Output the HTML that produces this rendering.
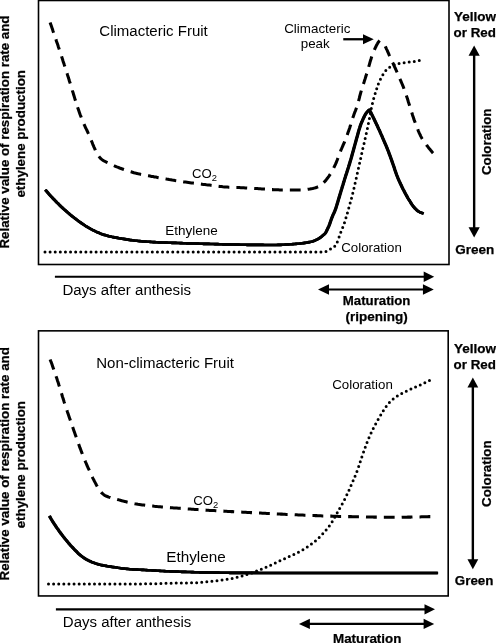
<!DOCTYPE html>
<html lang="en"><head><meta charset="utf-8"><title>Climacteric and non-climacteric fruit</title>
<style>html,body{margin:0;padding:0;background:#fff}body{width:496px;height:643px;overflow:hidden}svg{display:block}text{font-family:"Liberation Sans",Arial,Helvetica,sans-serif;fill:#000}.b{font-weight:bold;font-size:13.2px;stroke:#000;stroke-width:.25px}.n{font-size:14.85px}.s{font-size:13.15px}</style></head><body>
<svg width="496" height="643" viewBox="0 0 496 643">
<rect width="496" height="643" fill="#fff"/>
<rect x="38.5" y="0.5" width="410.5" height="264" fill="none" stroke="#000" stroke-width="1.6"/>
<rect x="38.5" y="330.85" width="409.7" height="265.1" fill="none" stroke="#000" stroke-width="1.6"/>
<path d="M50.1 22.5L50.6 23.9L51.1 25.3L51.6 26.8L52.1 28.2L52.6 29.6L53 31L53.5 32.4L54 33.9L54.5 35.3L55 36.7L55.5 38.1L56 39.5L56.4 41L56.9 42.4L57.4 43.8L57.9 45.2L58.3 46.7L58.8 48.1L59.3 49.5L59.8 50.9L60.2 52.4L60.7 53.8L61.2 55.2L61.6 56.6L62.1 58.1L62.6 59.5L63 60.9L63.5 62.4L64 63.8L64.4 65.2L64.9 66.7L65.3 68.1L65.8 69.5L66.3 70.9L66.7 72.4L67.2 73.8L67.6 75.2L68.1 76.7L68.5 78.1L69 79.5L69.4 81L69.9 82.4L70.4 83.8L70.8 85.3L71.2 86.7L71.7 88.1L72.1 89.6L72.5 91L73 92.4L73.4 93.9L73.8 95.3L74.3 96.8L74.7 98.2L75.1 99.6L75.6 101.1L76 102.5L76.5 103.9L76.9 105.4L77.4 106.8L77.9 108.2L78.4 109.6L78.9 111.1L79.4 112.5L79.9 113.9L80.4 115.3L81 116.7L81.5 118.1L82.1 119.5L82.6 120.9L83.2 122.3L83.8 123.7L84.4 125L85 126.4L85.6 127.8L86.3 129.1L87 130.5L87.6 131.8L88.2 133.2L88.8 134.5L89.4 135.9L90 137.3L90.6 138.7L91.1 140.1L91.7 141.5L92.3 142.9L92.8 144.3L93.4 145.7L94 147.1L94.6 148.4L95.2 149.8L95.8 151.2L96.5 152.5L97.2 153.8L98 155.1L98.9 156.4L99.8 157.5L100.8 158.6L102 159.6L103.2 160.5L104.5 161.2L105.9 161.8L107.2 162.5L108.6 163.1L109.9 163.8L111.3 164.4L112.7 165.1L114 165.7L115.4 166.3L116.8 166.9L118.2 167.4L119.6 168L121 168.5L122.4 169L123.8 169.5L125.2 170L126.7 170.5L128.1 170.9L129.5 171.4L131 171.8L132.4 172.2L133.9 172.7L135.3 173.1L136.8 173.4L138.2 173.8L139.7 174.1L141.1 174.4L142.6 174.7L144.1 175L145.6 175.3L147 175.6L148.5 175.8L150 176.1L151.5 176.4L153 176.6L154.4 176.9L155.9 177.1L157.4 177.4L158.9 177.7L160.4 177.9L161.8 178.2L163.3 178.5L164.8 178.7L166.3 179L167.8 179.2L169.2 179.5L170.7 179.7L172.2 180L173.7 180.2L175.2 180.5L176.6 180.7L178.1 181L179.6 181.2L181.1 181.4L182.6 181.6L184.1 181.9L185.6 182.1L187 182.3L188.5 182.5L190 182.7L191.5 182.9L193 183.1L194.5 183.3L196 183.5L197.5 183.7L199 183.9L200.4 184L201.9 184.2L203.4 184.4L204.9 184.6L206.4 184.8L207.9 184.9L209.4 185.1L210.9 185.3L212.4 185.5L213.9 185.7L215.4 185.9L216.8 186.1L218.3 186.3L219.8 186.5L221.3 186.6L222.8 186.8L224.3 186.9L225.8 187L227.3 187.1L228.8 187.2L230.3 187.2L231.8 187.3L233.3 187.4L234.8 187.4L236.3 187.5L237.8 187.5L239.3 187.6L240.8 187.7L242.3 187.7L243.8 187.8L245.3 187.9L246.8 188L248.3 188.1L249.8 188.1L251.3 188.2L252.8 188.3L254.3 188.4L255.8 188.5L257.3 188.6L258.8 188.7L260.3 188.8L261.8 188.9L263.3 189L264.8 189.1L266.3 189.2L267.8 189.3L269.3 189.5L270.8 189.6L272.3 189.6L273.8 189.7L275.3 189.7L276.8 189.8L278.3 189.8L279.8 189.9L281.3 189.9L282.8 189.9L284.3 190L285.8 190L287.3 190L288.8 190L290.3 190L291.8 190L293.3 190L294.8 190L296.3 190L297.8 190L299.3 190L300.8 190L302.3 190L303.8 189.9L305.3 189.7L306.8 189.5L308.3 189.2L309.8 189L311.3 188.7L312.7 188.5L314.2 188.1L315.6 187.7L317 187.2L318.4 186.6L319.7 185.9L321 185L322.2 184.1L323.3 183.1L324.3 182L325.3 180.9L326.3 179.7L327.2 178.5L328.1 177.3L329 176.1L329.8 174.8L330.6 173.6L331.4 172.3L332.1 171L332.9 169.7L333.5 168.3L334.2 167L334.8 165.6L335.5 164.2L336.1 162.9L336.6 161.5L337.2 160.1L337.7 158.7L338.3 157.3L338.8 155.9L339.3 154.5L339.8 153L340.4 151.6L340.9 150.2L341.5 148.9L342.1 147.5L342.7 146.1L343.3 144.7L343.9 143.3L344.5 142L345 140.6L345.6 139.2L346.1 137.8L346.7 136.4L347.2 135L347.7 133.6L348.2 132.1L348.7 130.7L349.2 129.3L349.7 127.9L350.1 126.5L350.6 125L351 123.6L351.5 122.1L351.9 120.7L352.3 119.3L352.8 117.8L353.3 116.4L353.8 115L354.3 113.6L354.8 112.2L355.4 110.8L355.9 109.4L356.4 108L356.9 106.5L357.3 105.1L357.8 103.7L358.2 102.2L358.6 100.8L359 99.3L359.4 97.9L359.7 96.4L360.1 95L360.5 93.5L360.9 92.1L361.4 90.6L361.8 89.2L362.2 87.8L362.7 86.3L363.1 84.9L363.6 83.5L364.1 82L364.5 80.6L365 79.2L365.4 77.8L365.9 76.3L366.3 74.9L366.8 73.5L367.2 72L367.7 70.6L368.1 69.1L368.5 67.7L368.9 66.2L369.3 64.8L369.7 63.3L370.1 61.9L370.5 60.5L371 59L371.4 57.6L371.9 56.2L372.4 54.8L373 53.4L373.5 52L374.1 50.6L374.7 49.2L375.3 47.8L376 46.5L376.6 45.1L377.4 43.8L378.1 42.5L379 41.3L380 40.2L381.1 39.2L382.3 38.2" stroke="#000" stroke-width="3.05" fill="none" stroke-linejoin="round" stroke-dasharray="10.8 7.05"/>
<path d="M385.3 46.3L385.9 47.7L386.5 49.1L387.2 50.4L387.8 51.8L388.4 53.2L389 54.6L389.6 55.9L390.3 57.3L390.9 58.7L391.5 60L392.1 61.4L392.8 62.8L393.4 64.2L394 65.5L394.6 66.9L395.3 68.3L395.9 69.7L396.5 71L397.1 72.4L397.7 73.8L398.3 75.2L398.9 76.6L399.5 78L400.1 79.3L400.7 80.7L401.3 82.1L401.9 83.5L402.5 84.9L403.1 86.3L403.6 87.7L404.1 89.1L404.6 90.5L405.1 92L405.6 93.4L406.1 94.8L406.6 96.2L407.1 97.7L407.5 99.1L408 100.6L408.4 102L408.9 103.4L409.4 104.9L409.8 106.3L410.3 107.7L410.7 109.2L411.2 110.6L411.6 112.1L412.1 113.5L412.5 115L413 116.4L413.5 117.8L413.9 119.3L414.4 120.7L415 122.1L415.5 123.5L416 124.9L416.5 126.3L417.1 127.8L417.7 129.2L418.2 130.6L418.8 132L419.4 133.4L420.1 134.7L420.7 136.1L421.4 137.4L422.1 138.7L422.9 140L423.7 141.3L424.6 142.5L425.5 143.7L426.4 144.9L427.4 146.1L428.3 147.3L429.2 148.5L430.2 149.6L431.1 150.8L432.1 152L433.1 153.1" stroke="#000" stroke-width="3.05" fill="none" stroke-linejoin="round" stroke-dasharray="10.8 7.05"/>
<path transform="translate(-0.35 0)" d="M45.3 189.8L46.3 190.9L47.3 192.1L48.2 193.2L49.2 194.3L50.2 195.5L51.3 196.6L52.3 197.7L53.3 198.8L54.3 199.8L55.4 200.9L56.4 202L57.5 203.1L58.6 204.1L59.7 205.2L60.7 206.2L61.8 207.2L62.9 208.3L64 209.3L65.2 210.3L66.3 211.3L67.4 212.3L68.6 213.2L69.7 214.2L70.9 215.2L72 216.1L73.2 217L74.4 218L75.6 218.9L76.8 219.8L78 220.7L79.2 221.6L80.4 222.4L81.7 223.3L82.9 224.1L84.2 225L85.4 225.8L86.7 226.6L88 227.4L89.3 228.1L90.6 228.9L91.9 229.6L93.2 230.3L94.6 230.9L95.9 231.6L97.3 232.2L98.7 232.8L100.1 233.4L101.5 233.9L102.9 234.4L104.3 234.9L105.8 235.3L107.2 235.7L108.7 236.1L110.1 236.4L111.6 236.8L113.1 237.1L114.6 237.4L116 237.6L117.5 237.9L119 238.2L120.5 238.4L122 238.7L123.4 238.9L124.9 239.1L126.4 239.4L127.9 239.6L129.4 239.9L130.9 240.1L132.4 240.3L133.8 240.5L135.3 240.7L136.8 240.8L138.3 241L139.8 241.1L141.3 241.2L142.8 241.4L144.3 241.5L145.8 241.6L147.3 241.7L148.8 241.8L150.3 241.9L151.8 242L153.3 242.1L154.8 242.1L156.3 242.2L157.8 242.3L159.3 242.3L160.8 242.4L162.3 242.5L163.8 242.5L165.3 242.6L166.8 242.6L168.3 242.7L169.8 242.7L171.3 242.8L172.8 242.8L174.3 242.9L175.8 242.9L177.3 243L178.8 243L180.3 243.1L181.8 243.1L183.3 243.2L184.8 243.2L186.3 243.3L187.8 243.3L189.3 243.4L190.8 243.4L192.3 243.5L193.8 243.5L195.4 243.5L196.9 243.6L198.4 243.6L199.9 243.7L201.4 243.7L202.9 243.8L204.4 243.8L205.9 243.8L207.4 243.9L208.9 243.9L210.4 244L211.9 244L213.4 244L214.9 244.1L216.4 244.1L217.9 244.1L219.4 244.2L220.9 244.2L222.4 244.3L223.9 244.3L225.4 244.3L226.9 244.4L228.4 244.4L229.9 244.4L231.4 244.5L232.9 244.5L234.4 244.5L235.9 244.6L237.4 244.6L238.9 244.6L240.4 244.7L241.9 244.7L243.4 244.7L244.9 244.7L246.4 244.8L247.9 244.8L249.4 244.8L250.9 244.8L252.4 244.8L253.9 244.8L255.4 244.9L256.9 244.9L258.4 244.9L259.9 244.9L261.4 244.9L262.9 244.9L264.4 245L266 245L267.5 245L269 245L270.5 245L272 245L273.5 245L275 245L276.5 245L278 244.9L279.5 244.9L281 244.9L282.5 244.8L284 244.7L285.5 244.6L287 244.5L288.5 244.4L290 244.3L291.5 244.2L293 244.1L294.5 244L296 243.9L297.5 243.8L299 243.7L300.5 243.5L302 243.3L303.5 243.1L304.9 242.9L306.4 242.7L307.9 242.4L309.4 242.1L310.9 241.8L312.3 241.4L313.7 240.9L315.1 240.4L316.5 239.8L317.8 239.1L319.1 238.3L320.4 237.5L321.6 236.6L322.8 235.6L324 234.6L325 233.6L325.8 232.4L326.5 231.1L327.2 229.7L327.8 228.3L328.5 226.9L329.1 225.5L329.6 224.2L330.1 222.8L330.6 221.3L331.1 219.9L331.6 218.5L332.2 217.1L332.7 215.7L333.3 214.3L334 212.9L334.6 211.6L335.1 210.2L335.7 208.8L336.1 207.4L336.6 205.9L337 204.5L337.5 203L337.9 201.6L338.3 200.2L338.7 198.7L339.2 197.3L339.6 195.8L340 194.4L340.5 193L340.9 191.5L341.3 190.1L341.8 188.6L342.2 187.2L342.6 185.8L343.1 184.3L343.5 182.9L344 181.5L344.4 180L344.8 178.6L345.3 177.2L345.7 175.7L346.2 174.3L346.7 172.9L347.1 171.4L347.6 170L348 168.6L348.5 167.1L348.9 165.7L349.4 164.3L349.8 162.8L350.2 161.4L350.7 159.9L351.1 158.5L351.5 157.1L351.9 155.6L352.3 154.2L352.7 152.7L353.1 151.3L353.5 149.8L353.9 148.4L354.3 146.9L354.7 145.5L355.1 144L355.5 142.6L355.9 141.1L356.3 139.7L356.7 138.2L357.1 136.8L357.5 135.3L357.9 133.9L358.3 132.4L358.7 131L359.1 129.5L359.6 128.1L360 126.7L360.5 125.3L361 123.8L361.6 122.4L362.2 121.1L362.8 119.7L363.4 118.3L364.1 117L364.7 115.6L365.5 114.3L366.3 113L367.2 111.9L368.2 110.8L369.4 109.8L369.4 109.8L370.1 111.1L370.8 112.5L371.5 113.8L372.1 115.2L372.8 116.5L373.5 117.9L374.1 119.2L374.8 120.6L375.4 121.9L376.1 123.3L376.7 124.7L377.4 126L378 127.4L378.6 128.8L379.3 130.1L379.9 131.5L380.5 132.9L381.1 134.3L381.7 135.6L382.3 137L382.9 138.4L383.5 139.8L384.1 141.2L384.7 142.6L385.3 143.9L385.9 145.3L386.5 146.7L387 148.1L387.6 149.5L388.2 150.9L388.7 152.3L389.2 153.7L389.7 155.1L390.3 156.6L390.8 158L391.3 159.4L391.8 160.8L392.3 162.2L392.8 163.6L393.3 165.1L393.8 166.5L394.3 167.9L394.7 169.4L395.2 170.8L395.7 172.2L396.2 173.6L396.7 175L397.3 176.4L397.8 177.8L398.4 179.2L399 180.6L399.7 182L400.3 183.4L400.9 184.7L401.6 186.1L402.2 187.4L402.9 188.8L403.6 190.1L404.3 191.5L405 192.8L405.7 194.1L406.4 195.5L407.2 196.8L407.9 198.1L408.7 199.4L409.5 200.6L410.3 201.9L411.1 203.2L411.9 204.5L412.8 205.7L413.7 206.9L414.7 208L415.7 209.1L416.9 210.2L418 211.1L419.3 211.9L420.6 212.6L422 213.1L423.5 213.6" stroke="#000" stroke-width="2.65" fill="none" stroke-linejoin="round" stroke-linecap="butt"/>
<path transform="translate(0 0)" d="M45.3 189.8L46.3 190.9L47.3 192.1L48.2 193.2L49.2 194.3L50.2 195.5L51.3 196.6L52.3 197.7L53.3 198.8L54.3 199.8L55.4 200.9L56.4 202L57.5 203.1L58.6 204.1L59.7 205.2L60.7 206.2L61.8 207.2L62.9 208.3L64 209.3L65.2 210.3L66.3 211.3L67.4 212.3L68.6 213.2L69.7 214.2L70.9 215.2L72 216.1L73.2 217L74.4 218L75.6 218.9L76.8 219.8L78 220.7L79.2 221.6L80.4 222.4L81.7 223.3L82.9 224.1L84.2 225L85.4 225.8L86.7 226.6L88 227.4L89.3 228.1L90.6 228.9L91.9 229.6L93.2 230.3L94.6 230.9L95.9 231.6L97.3 232.2L98.7 232.8L100.1 233.4L101.5 233.9L102.9 234.4L104.3 234.9L105.8 235.3L107.2 235.7L108.7 236.1L110.1 236.4L111.6 236.8L113.1 237.1L114.6 237.4L116 237.6L117.5 237.9L119 238.2L120.5 238.4L122 238.7L123.4 238.9L124.9 239.1L126.4 239.4L127.9 239.6L129.4 239.9L130.9 240.1L132.4 240.3L133.8 240.5L135.3 240.7L136.8 240.8L138.3 241L139.8 241.1L141.3 241.2L142.8 241.4L144.3 241.5L145.8 241.6L147.3 241.7L148.8 241.8L150.3 241.9L151.8 242L153.3 242.1L154.8 242.1L156.3 242.2L157.8 242.3L159.3 242.3L160.8 242.4L162.3 242.5L163.8 242.5L165.3 242.6L166.8 242.6L168.3 242.7L169.8 242.7L171.3 242.8L172.8 242.8L174.3 242.9L175.8 242.9L177.3 243L178.8 243L180.3 243.1L181.8 243.1L183.3 243.2L184.8 243.2L186.3 243.3L187.8 243.3L189.3 243.4L190.8 243.4L192.3 243.5L193.8 243.5L195.4 243.5L196.9 243.6L198.4 243.6L199.9 243.7L201.4 243.7L202.9 243.8L204.4 243.8L205.9 243.8L207.4 243.9L208.9 243.9L210.4 244L211.9 244L213.4 244L214.9 244.1L216.4 244.1L217.9 244.1L219.4 244.2L220.9 244.2L222.4 244.3L223.9 244.3L225.4 244.3L226.9 244.4L228.4 244.4L229.9 244.4L231.4 244.5L232.9 244.5L234.4 244.5L235.9 244.6L237.4 244.6L238.9 244.6L240.4 244.7L241.9 244.7L243.4 244.7L244.9 244.7L246.4 244.8L247.9 244.8L249.4 244.8L250.9 244.8L252.4 244.8L253.9 244.8L255.4 244.9L256.9 244.9L258.4 244.9L259.9 244.9L261.4 244.9L262.9 244.9L264.4 245L266 245L267.5 245L269 245L270.5 245L272 245L273.5 245L275 245L276.5 245L278 244.9L279.5 244.9L281 244.9L282.5 244.8L284 244.7L285.5 244.6L287 244.5L288.5 244.4L290 244.3L291.5 244.2L293 244.1L294.5 244L296 243.9L297.5 243.8L299 243.7L300.5 243.5L302 243.3L303.5 243.1L304.9 242.9L306.4 242.7L307.9 242.4L309.4 242.1L310.9 241.8L312.3 241.4L313.7 240.9L315.1 240.4L316.5 239.8L317.8 239.1L319.1 238.3L320.4 237.5L321.6 236.6L322.8 235.6L324 234.6L325 233.6L325.8 232.4L326.5 231.1L327.2 229.7L327.8 228.3L328.5 226.9L329.1 225.5L329.6 224.2L330.1 222.8L330.6 221.3L331.1 219.9L331.6 218.5L332.2 217.1L332.7 215.7L333.3 214.3L334 212.9L334.6 211.6L335.1 210.2L335.7 208.8L336.1 207.4L336.6 205.9L337 204.5L337.5 203L337.9 201.6L338.3 200.2L338.7 198.7L339.2 197.3L339.6 195.8L340 194.4L340.5 193L340.9 191.5L341.3 190.1L341.8 188.6L342.2 187.2L342.6 185.8L343.1 184.3L343.5 182.9L344 181.5L344.4 180L344.8 178.6L345.3 177.2L345.7 175.7L346.2 174.3L346.7 172.9L347.1 171.4L347.6 170L348 168.6L348.5 167.1L348.9 165.7L349.4 164.3L349.8 162.8L350.2 161.4L350.7 159.9L351.1 158.5L351.5 157.1L351.9 155.6L352.3 154.2L352.7 152.7L353.1 151.3L353.5 149.8L353.9 148.4L354.3 146.9L354.7 145.5L355.1 144L355.5 142.6L355.9 141.1L356.3 139.7L356.7 138.2L357.1 136.8L357.5 135.3L357.9 133.9L358.3 132.4L358.7 131L359.1 129.5L359.6 128.1L360 126.7L360.5 125.3L361 123.8L361.6 122.4L362.2 121.1L362.8 119.7L363.4 118.3L364.1 117L364.7 115.6L365.5 114.3L366.3 113L367.2 111.9L368.2 110.8L369.4 109.8L369.4 109.8L370.1 111.1L370.8 112.5L371.5 113.8L372.1 115.2L372.8 116.5L373.5 117.9L374.1 119.2L374.8 120.6L375.4 121.9L376.1 123.3L376.7 124.7L377.4 126L378 127.4L378.6 128.8L379.3 130.1L379.9 131.5L380.5 132.9L381.1 134.3L381.7 135.6L382.3 137L382.9 138.4L383.5 139.8L384.1 141.2L384.7 142.6L385.3 143.9L385.9 145.3L386.5 146.7L387 148.1L387.6 149.5L388.2 150.9L388.7 152.3L389.2 153.7L389.7 155.1L390.3 156.6L390.8 158L391.3 159.4L391.8 160.8L392.3 162.2L392.8 163.6L393.3 165.1L393.8 166.5L394.3 167.9L394.7 169.4L395.2 170.8L395.7 172.2L396.2 173.6L396.7 175L397.3 176.4L397.8 177.8L398.4 179.2L399 180.6L399.7 182L400.3 183.4L400.9 184.7L401.6 186.1L402.2 187.4L402.9 188.8L403.6 190.1L404.3 191.5L405 192.8L405.7 194.1L406.4 195.5L407.2 196.8L407.9 198.1L408.7 199.4L409.5 200.6L410.3 201.9L411.1 203.2L411.9 204.5L412.8 205.7L413.7 206.9L414.7 208L415.7 209.1L416.9 210.2L418 211.1L419.3 211.9L420.6 212.6L422 213.1L423.5 213.6" stroke="#000" stroke-width="2.65" fill="none" stroke-linejoin="round" stroke-linecap="butt"/>
<path transform="translate(0.35 0)" d="M45.3 189.8L46.3 190.9L47.3 192.1L48.2 193.2L49.2 194.3L50.2 195.5L51.3 196.6L52.3 197.7L53.3 198.8L54.3 199.8L55.4 200.9L56.4 202L57.5 203.1L58.6 204.1L59.7 205.2L60.7 206.2L61.8 207.2L62.9 208.3L64 209.3L65.2 210.3L66.3 211.3L67.4 212.3L68.6 213.2L69.7 214.2L70.9 215.2L72 216.1L73.2 217L74.4 218L75.6 218.9L76.8 219.8L78 220.7L79.2 221.6L80.4 222.4L81.7 223.3L82.9 224.1L84.2 225L85.4 225.8L86.7 226.6L88 227.4L89.3 228.1L90.6 228.9L91.9 229.6L93.2 230.3L94.6 230.9L95.9 231.6L97.3 232.2L98.7 232.8L100.1 233.4L101.5 233.9L102.9 234.4L104.3 234.9L105.8 235.3L107.2 235.7L108.7 236.1L110.1 236.4L111.6 236.8L113.1 237.1L114.6 237.4L116 237.6L117.5 237.9L119 238.2L120.5 238.4L122 238.7L123.4 238.9L124.9 239.1L126.4 239.4L127.9 239.6L129.4 239.9L130.9 240.1L132.4 240.3L133.8 240.5L135.3 240.7L136.8 240.8L138.3 241L139.8 241.1L141.3 241.2L142.8 241.4L144.3 241.5L145.8 241.6L147.3 241.7L148.8 241.8L150.3 241.9L151.8 242L153.3 242.1L154.8 242.1L156.3 242.2L157.8 242.3L159.3 242.3L160.8 242.4L162.3 242.5L163.8 242.5L165.3 242.6L166.8 242.6L168.3 242.7L169.8 242.7L171.3 242.8L172.8 242.8L174.3 242.9L175.8 242.9L177.3 243L178.8 243L180.3 243.1L181.8 243.1L183.3 243.2L184.8 243.2L186.3 243.3L187.8 243.3L189.3 243.4L190.8 243.4L192.3 243.5L193.8 243.5L195.4 243.5L196.9 243.6L198.4 243.6L199.9 243.7L201.4 243.7L202.9 243.8L204.4 243.8L205.9 243.8L207.4 243.9L208.9 243.9L210.4 244L211.9 244L213.4 244L214.9 244.1L216.4 244.1L217.9 244.1L219.4 244.2L220.9 244.2L222.4 244.3L223.9 244.3L225.4 244.3L226.9 244.4L228.4 244.4L229.9 244.4L231.4 244.5L232.9 244.5L234.4 244.5L235.9 244.6L237.4 244.6L238.9 244.6L240.4 244.7L241.9 244.7L243.4 244.7L244.9 244.7L246.4 244.8L247.9 244.8L249.4 244.8L250.9 244.8L252.4 244.8L253.9 244.8L255.4 244.9L256.9 244.9L258.4 244.9L259.9 244.9L261.4 244.9L262.9 244.9L264.4 245L266 245L267.5 245L269 245L270.5 245L272 245L273.5 245L275 245L276.5 245L278 244.9L279.5 244.9L281 244.9L282.5 244.8L284 244.7L285.5 244.6L287 244.5L288.5 244.4L290 244.3L291.5 244.2L293 244.1L294.5 244L296 243.9L297.5 243.8L299 243.7L300.5 243.5L302 243.3L303.5 243.1L304.9 242.9L306.4 242.7L307.9 242.4L309.4 242.1L310.9 241.8L312.3 241.4L313.7 240.9L315.1 240.4L316.5 239.8L317.8 239.1L319.1 238.3L320.4 237.5L321.6 236.6L322.8 235.6L324 234.6L325 233.6L325.8 232.4L326.5 231.1L327.2 229.7L327.8 228.3L328.5 226.9L329.1 225.5L329.6 224.2L330.1 222.8L330.6 221.3L331.1 219.9L331.6 218.5L332.2 217.1L332.7 215.7L333.3 214.3L334 212.9L334.6 211.6L335.1 210.2L335.7 208.8L336.1 207.4L336.6 205.9L337 204.5L337.5 203L337.9 201.6L338.3 200.2L338.7 198.7L339.2 197.3L339.6 195.8L340 194.4L340.5 193L340.9 191.5L341.3 190.1L341.8 188.6L342.2 187.2L342.6 185.8L343.1 184.3L343.5 182.9L344 181.5L344.4 180L344.8 178.6L345.3 177.2L345.7 175.7L346.2 174.3L346.7 172.9L347.1 171.4L347.6 170L348 168.6L348.5 167.1L348.9 165.7L349.4 164.3L349.8 162.8L350.2 161.4L350.7 159.9L351.1 158.5L351.5 157.1L351.9 155.6L352.3 154.2L352.7 152.7L353.1 151.3L353.5 149.8L353.9 148.4L354.3 146.9L354.7 145.5L355.1 144L355.5 142.6L355.9 141.1L356.3 139.7L356.7 138.2L357.1 136.8L357.5 135.3L357.9 133.9L358.3 132.4L358.7 131L359.1 129.5L359.6 128.1L360 126.7L360.5 125.3L361 123.8L361.6 122.4L362.2 121.1L362.8 119.7L363.4 118.3L364.1 117L364.7 115.6L365.5 114.3L366.3 113L367.2 111.9L368.2 110.8L369.4 109.8L369.4 109.8L370.1 111.1L370.8 112.5L371.5 113.8L372.1 115.2L372.8 116.5L373.5 117.9L374.1 119.2L374.8 120.6L375.4 121.9L376.1 123.3L376.7 124.7L377.4 126L378 127.4L378.6 128.8L379.3 130.1L379.9 131.5L380.5 132.9L381.1 134.3L381.7 135.6L382.3 137L382.9 138.4L383.5 139.8L384.1 141.2L384.7 142.6L385.3 143.9L385.9 145.3L386.5 146.7L387 148.1L387.6 149.5L388.2 150.9L388.7 152.3L389.2 153.7L389.7 155.1L390.3 156.6L390.8 158L391.3 159.4L391.8 160.8L392.3 162.2L392.8 163.6L393.3 165.1L393.8 166.5L394.3 167.9L394.7 169.4L395.2 170.8L395.7 172.2L396.2 173.6L396.7 175L397.3 176.4L397.8 177.8L398.4 179.2L399 180.6L399.7 182L400.3 183.4L400.9 184.7L401.6 186.1L402.2 187.4L402.9 188.8L403.6 190.1L404.3 191.5L405 192.8L405.7 194.1L406.4 195.5L407.2 196.8L407.9 198.1L408.7 199.4L409.5 200.6L410.3 201.9L411.1 203.2L411.9 204.5L412.8 205.7L413.7 206.9L414.7 208L415.7 209.1L416.9 210.2L418 211.1L419.3 211.9L420.6 212.6L422 213.1L423.5 213.6" stroke="#000" stroke-width="2.65" fill="none" stroke-linejoin="round" stroke-linecap="butt"/>
<path d="M45 252.1L46.5 252.1L48 252.1L49.5 252.1L51 252.1L52.5 252.1L54 252.1L55.5 252.1L57 252.1L58.5 252.1L60 252.1L61.5 252.1L63 252.1L64.5 252.1L66 252.1L67.5 252.1L69 252.1L70.5 252.1L72 252.1L73.6 252.1L75.1 252.1L76.6 252.1L78.1 252.1L79.6 252.1L81.1 252.1L82.6 252.1L84.1 252.1L85.6 252.1L87.1 252.1L88.6 252.1L90.1 252.1L91.6 252.1L93.1 252.1L94.6 252.1L96.1 252.1L97.6 252.1L99.1 252.1L100.6 252.1L102.1 252.1L103.6 252.1L105.1 252.1L106.6 252.1L108.1 252.1L109.6 252.1L111.1 252.1L112.6 252.1L114.1 252.1L115.6 252.1L117.1 252.1L118.6 252.1L120.1 252.1L121.6 252.1L123.1 252.1L124.6 252.1L126.1 252.1L127.6 252.1L129.2 252.1L130.7 252.1L132.2 252.1L133.7 252.1L135.2 252.1L136.7 252.1L138.2 252.1L139.7 252.1L141.2 252.1L142.7 252.1L144.2 252.1L145.7 252.1L147.2 252.1L148.7 252.1L150.2 252.1L151.7 252.1L153.2 252.1L154.7 252.1L156.2 252.1L157.7 252.1L159.2 252.1L160.7 252.1L162.2 252.1L163.7 252.1L165.2 252.1L166.7 252.1L168.2 252.1L169.7 252.1L171.2 252.1L172.7 252.1L174.2 252.1L175.7 252.1L177.2 252.1L178.7 252.1L180.2 252.1L181.7 252.1L183.2 252.1L184.8 252.1L186.3 252.1L187.8 252.1L189.3 252.1L190.8 252.1L192.3 252.1L193.8 252.1L195.3 252.1L196.8 252.1L198.3 252.1L199.8 252.1L201.3 252.1L202.8 252.1L204.3 252.1L205.8 252.1L207.3 252.1L208.8 252.1L210.3 252.1L211.8 252.1L213.3 252.1L214.8 252.1L216.3 252.1L217.8 252.1L219.3 252.1L220.8 252.1L222.3 252.1L223.8 252.1L225.3 252.1L226.8 252.1L228.3 252.1L229.8 252.1L231.3 252.1L232.8 252.1L234.3 252.1L235.8 252.1L237.3 252.1L238.8 252.1L240.4 252.1L241.9 252.1L243.4 252.1L244.9 252.1L246.4 252.1L247.9 252.1L249.4 252.1L250.9 252.1L252.4 252.1L253.9 252.1L255.4 252.1L256.9 252.1L258.4 252.1L259.9 252.1L261.4 252.1L262.9 252.1L264.4 252.1L265.9 252.1L267.4 252.1L268.9 252.1L270.4 252.1L271.9 252.1L273.4 252.1L274.9 252.1L276.4 252.1L277.9 252.1L279.4 252.1L280.9 252.1L282.4 252.1L283.9 252.1L285.4 252.1L286.9 252.1L288.4 252.1L289.9 252.1L291.4 252.1L292.9 252.1L294.4 252.1L296 252.1L297.5 252.1L299 252.1L300.5 252.1L302 252.1L303.5 252.1L305 252.1L306.5 252.1L308 252.1L309.5 252.1L311 252.1L312.5 252.1L314 252.1L315.5 252.1L317 252.1L318.5 252.1L320 252.1L321.5 252.1L323 252L324.5 251.8L326 251.4L327.4 251L328.7 250.3L330 249.4L331.3 248.6L332.6 247.8L333.9 247L334.9 246.1L335.8 244.9L336.5 243.5L337.2 242.1L337.8 240.7L338.3 239.3L338.8 237.9L339.3 236.5L339.8 235.1L340.3 233.7L340.8 232.3L341.4 230.9L341.9 229.5L342.5 228.1L343 226.7L343.6 225.3L344.1 223.8L344.6 222.4L345 221L345.5 219.6L345.9 218.1L346.3 216.7L346.7 215.2L347.2 213.8L347.6 212.3L348 210.9L348.4 209.4L348.8 208L349.2 206.6L349.6 205.1L350 203.7L350.4 202.2L350.8 200.8L351.2 199.3L351.6 197.9L352 196.4L352.4 195L352.7 193.5L353.1 192L353.4 190.6L353.8 189.1L354.1 187.7L354.5 186.2L354.8 184.7L355.1 183.3L355.5 181.8L355.8 180.3L356.1 178.9L356.5 177.4L356.8 175.9L357.1 174.5L357.4 173L357.8 171.5L358.1 170.1L358.4 168.6L358.7 167.1L359.1 165.7L359.4 164.2L359.7 162.7L360 161.3L360.3 159.8L360.7 158.3L361 156.9L361.3 155.4L361.6 153.9L362 152.4L362.3 151L362.6 149.5L362.9 148.1L363.3 146.6L363.6 145.1L364 143.7L364.3 142.2L364.6 140.7L365 139.3L365.3 137.8L365.7 136.3L366 134.9L366.3 133.4L366.7 131.9L367 130.5L367.3 129L367.6 127.5L367.9 126.1L368.2 124.6L368.5 123.1L368.8 121.6L369.1 120.2L369.4 118.7L369.6 117.2L369.9 115.7L370.2 114.3L370.4 112.8L370.7 111.3L371 109.8L371.3 108.4L371.6 106.9L371.9 105.4L372.3 104L372.7 102.5L373.1 101L373.4 99.6L373.8 98.1L374.3 96.7L374.7 95.3L375.1 93.8L375.6 92.4L376 91L376.5 89.5L376.9 88.1L377.4 86.6L377.9 85.2L378.4 83.8L378.9 82.4L379.6 81.1L380.2 79.7L380.9 78.4L381.6 77L382.3 75.7L383.1 74.4L383.9 73.2L384.8 71.9L385.7 70.7L386.7 69.6L387.8 68.6L389 67.7L390.3 66.9L391.5 66.1L392.9 65.3L394.2 64.8L395.7 64.3L397.1 63.9L398.6 63.5L400.1 63.3L401.6 63.1L403.1 62.9L404.5 62.7L406 62.5L407.5 62.3L409 62.1L410.5 62L412 61.8L413.5 61.6L415 61.4L416.5 61.1L417.9 60.8L419.4 60.5" stroke="#000" stroke-width="3" fill="none" stroke-linecap="round" stroke-linejoin="round" stroke-dasharray="0 5.11"/>
<path d="M50.1 359.4L50.6 360.8L51.2 362.2L51.7 363.6L52.2 365L52.7 366.5L53.2 367.9L53.7 369.3L54.2 370.7L54.7 372.1L55.2 373.5L55.6 375L56.1 376.4L56.6 377.8L57.1 379.3L57.5 380.7L58 382.1L58.5 383.5L58.9 385L59.4 386.4L59.8 387.8L60.3 389.3L60.7 390.7L61.1 392.1L61.6 393.6L62 395L62.4 396.5L62.9 397.9L63.3 399.3L63.8 400.8L64.2 402.2L64.7 403.6L65.1 405.1L65.6 406.5L66.1 407.9L66.6 409.3L67.1 410.8L67.5 412.2L68 413.6L68.5 415L69 416.4L69.5 417.9L70 419.3L70.5 420.7L71 422.1L71.5 423.6L72 425L72.4 426.4L72.9 427.8L73.4 429.2L73.9 430.7L74.4 432.1L74.9 433.5L75.4 434.9L75.9 436.3L76.4 437.8L76.9 439.2L77.4 440.6L77.9 442L78.4 443.4L78.9 444.8L79.4 446.2L79.9 447.7L80.5 449.1L81 450.5L81.5 451.9L82.1 453.3L82.6 454.7L83.2 456.1L83.7 457.5L84.3 458.9L84.9 460.3L85.4 461.6L86 463L86.6 464.4L87.2 465.8L87.8 467.2L88.4 468.5L89.1 469.9L89.7 471.3L90.3 472.6L90.9 474L91.5 475.4L92.2 476.7L92.8 478.1L93.5 479.4L94.2 480.8L94.9 482.1L95.6 483.4L96.3 484.8L97 486.1L97.8 487.4L98.5 488.7L99.4 489.9L100.3 491.1L101.2 492.3L102.3 493.4L103.4 494.4L104.6 495.3L105.9 496L107.3 496.5L108.7 497.1L110.2 497.5L111.6 498L113 498.4L114.5 498.7L116 499.1L117.4 499.5L118.9 499.9L120.3 500.3L121.8 500.7L123.2 501.1L124.7 501.4L126.1 501.8L127.6 502.2L129 502.5L130.5 502.9L132 503.2L133.4 503.5L134.9 503.8L136.4 504L137.9 504.3L139.4 504.5L140.9 504.7L142.3 504.9L143.8 505.1L145.3 505.3L146.8 505.5L148.3 505.6L149.8 505.8L151.3 506L152.8 506.1L154.3 506.3L155.8 506.4L157.3 506.6L158.8 506.7L160.3 506.8L161.8 507L163.3 507.1L164.8 507.2L166.3 507.3L167.8 507.5L169.3 507.6L170.8 507.7L172.3 507.8L173.8 507.9L175.3 508L176.8 508.1L178.3 508.2L179.8 508.3L181.3 508.4L182.8 508.5L184.3 508.6L185.8 508.8L187.3 508.9L188.8 509L190.3 509.1L191.8 509.2L193.3 509.3L194.8 509.4L196.3 509.5L197.8 509.6L199.3 509.7L200.8 509.8L202.2 509.9L203.7 510L205.2 510.1L206.7 510.2L208.2 510.3L209.7 510.4L211.2 510.5L212.7 510.5L214.2 510.6L215.7 510.7L217.2 510.8L218.7 510.9L220.2 511L221.8 511.1L223.3 511.1L224.8 511.2L226.3 511.3L227.8 511.4L229.3 511.5L230.8 511.6L232.3 511.6L233.8 511.7L235.3 511.8L236.8 511.9L238.3 511.9L239.8 512L241.3 512.1L242.8 512.2L244.3 512.3L245.8 512.3L247.3 512.4L248.8 512.5L250.3 512.6L251.8 512.6L253.3 512.7L254.8 512.8L256.3 512.9L257.8 513L259.3 513L260.8 513.1L262.3 513.2L263.8 513.3L265.3 513.3L266.8 513.4L268.3 513.5L269.8 513.5L271.3 513.6L272.8 513.7L274.3 513.8L275.8 513.8L277.3 513.9L278.8 514L280.3 514.1L281.8 514.1L283.3 514.2L284.8 514.3L286.3 514.4L287.8 514.4L289.3 514.5L290.8 514.6L292.3 514.6L293.8 514.7L295.3 514.8L296.8 514.8L298.3 514.9L299.8 515L301.3 515L302.8 515.1L304.3 515.2L305.8 515.2L307.3 515.3L308.8 515.4L310.3 515.4L311.8 515.5L313.3 515.5L314.8 515.6L316.3 515.6L317.8 515.7L319.3 515.8L320.8 515.8L322.3 515.9L323.8 515.9L325.3 516L326.8 516L328.3 516.1L329.8 516.1L331.3 516.1L332.8 516.2L334.3 516.2L335.8 516.3L337.3 516.3L338.8 516.4L340.3 516.4L341.8 516.4L343.4 516.5L344.9 516.5L346.4 516.5L347.9 516.6L349.4 516.6L350.9 516.6L352.4 516.7L353.9 516.7L355.4 516.7L356.9 516.8L358.4 516.8L359.9 516.8L361.4 516.9L362.9 516.9L364.4 516.9L365.9 516.9L367.4 517L368.9 517L370.4 517L371.9 517L373.4 517.1L374.9 517.1L376.4 517.1L377.9 517.1L379.4 517.2L380.9 517.2L382.4 517.2L383.9 517.2L385.4 517.2L386.9 517.3L388.4 517.3L389.9 517.3L391.4 517.3L392.9 517.3L394.4 517.3L395.9 517.3L397.4 517.3L398.9 517.3L400.5 517.3L402 517.2L403.5 517.2L405 517.2L406.5 517.2L408 517.1L409.5 517.1L411 517.1L412.5 517L414 517L415.5 517L417 516.9L418.5 516.9L420 516.9L421.5 516.8L423 516.8L424.5 516.8L426 516.7L427.5 516.7L429 516.6L430.5 516.6" stroke="#000" stroke-width="3.05" fill="none" stroke-linejoin="round" stroke-dasharray="10.8 7.05"/>
<path transform="translate(-0.35 0)" d="M49.4 516L50.2 517.3L50.9 518.6L51.7 519.9L52.5 521.2L53.3 522.4L54.1 523.7L55 525L55.8 526.2L56.6 527.5L57.5 528.7L58.4 529.9L59.2 531.2L60.1 532.4L61 533.6L61.9 534.8L62.8 536L63.8 537.2L64.7 538.4L65.6 539.5L66.6 540.7L67.6 541.9L68.5 543L69.5 544.1L70.5 545.3L71.5 546.4L72.6 547.5L73.6 548.6L74.6 549.7L75.7 550.7L76.8 551.8L77.8 552.9L78.9 553.9L80.1 555L81.2 555.9L82.4 556.8L83.6 557.7L84.9 558.5L86.2 559.3L87.5 560L88.8 560.7L90.2 561.3L91.6 562L93 562.6L94.4 563.1L95.8 563.6L97.2 564L98.7 564.4L100.1 564.8L101.6 565.1L103.1 565.4L104.6 565.7L106 565.9L107.5 566.2L109 566.4L110.5 566.6L112 566.9L113.5 567.1L115 567.3L116.5 567.5L118 567.8L119.5 568L120.9 568.2L122.4 568.5L123.9 568.6L125.4 568.8L126.9 568.9L128.4 569L129.9 569.2L131.4 569.3L132.9 569.4L134.4 569.5L135.9 569.5L137.4 569.6L138.9 569.7L140.4 569.8L141.9 569.9L143.4 569.9L145 570L146.5 570.1L148 570.2L149.5 570.2L151 570.3L152.5 570.4L154 570.5L155.5 570.6L157 570.7L158.5 570.8L160 570.9L161.5 571L163 571L164.5 571.1L166 571.2L167.5 571.2L169 571.3L170.5 571.4L172 571.4L173.5 571.5L175 571.5L176.5 571.6L178 571.6L179.5 571.7L181.1 571.8L182.6 571.8L184.1 571.9L185.6 571.9L187.1 572L188.6 572L190.1 572L191.6 572.1L193.1 572.1L194.6 572.2L196.1 572.2L197.6 572.2L199.1 572.3L200.6 572.3L202.1 572.3L203.6 572.4L205.1 572.4L206.6 572.4L208.1 572.5L209.7 572.5L211.2 572.5L212.7 572.5L214.2 572.6L215.7 572.6L217.2 572.6L218.7 572.6L220.2 572.7L221.7 572.7L223.2 572.7L224.7 572.7L226.2 572.7L227.7 572.7L229.2 572.8L230.7 572.8L232.2 572.8L233.7 572.8L235.3 572.8L236.8 572.8L238.3 572.8L239.8 572.8L241.3 572.8L242.8 572.9L244.3 572.9L245.8 572.9L247.3 572.9L248.8 572.9L250.3 572.9L251.8 572.9L253.3 572.9L254.8 572.9L256.3 572.9L257.8 572.9L259.3 573L260.8 573L262.4 573L263.9 573L265.4 573L266.9 573L268.4 573L269.9 573L271.4 573L272.9 573L274.4 573L275.9 573L277.4 573L278.9 573L280.4 573L281.9 573L283.4 573L284.9 573L286.4 573L288 573L289.5 573L291 573L292.5 573L294 573L295.5 573L297 573L298.5 573L300 573.0H437.8" stroke="#000" stroke-width="2.65" fill="none" stroke-linejoin="round" stroke-linecap="butt"/>
<path transform="translate(0 0)" d="M49.4 516L50.2 517.3L50.9 518.6L51.7 519.9L52.5 521.2L53.3 522.4L54.1 523.7L55 525L55.8 526.2L56.6 527.5L57.5 528.7L58.4 529.9L59.2 531.2L60.1 532.4L61 533.6L61.9 534.8L62.8 536L63.8 537.2L64.7 538.4L65.6 539.5L66.6 540.7L67.6 541.9L68.5 543L69.5 544.1L70.5 545.3L71.5 546.4L72.6 547.5L73.6 548.6L74.6 549.7L75.7 550.7L76.8 551.8L77.8 552.9L78.9 553.9L80.1 555L81.2 555.9L82.4 556.8L83.6 557.7L84.9 558.5L86.2 559.3L87.5 560L88.8 560.7L90.2 561.3L91.6 562L93 562.6L94.4 563.1L95.8 563.6L97.2 564L98.7 564.4L100.1 564.8L101.6 565.1L103.1 565.4L104.6 565.7L106 565.9L107.5 566.2L109 566.4L110.5 566.6L112 566.9L113.5 567.1L115 567.3L116.5 567.5L118 567.8L119.5 568L120.9 568.2L122.4 568.5L123.9 568.6L125.4 568.8L126.9 568.9L128.4 569L129.9 569.2L131.4 569.3L132.9 569.4L134.4 569.5L135.9 569.5L137.4 569.6L138.9 569.7L140.4 569.8L141.9 569.9L143.4 569.9L145 570L146.5 570.1L148 570.2L149.5 570.2L151 570.3L152.5 570.4L154 570.5L155.5 570.6L157 570.7L158.5 570.8L160 570.9L161.5 571L163 571L164.5 571.1L166 571.2L167.5 571.2L169 571.3L170.5 571.4L172 571.4L173.5 571.5L175 571.5L176.5 571.6L178 571.6L179.5 571.7L181.1 571.8L182.6 571.8L184.1 571.9L185.6 571.9L187.1 572L188.6 572L190.1 572L191.6 572.1L193.1 572.1L194.6 572.2L196.1 572.2L197.6 572.2L199.1 572.3L200.6 572.3L202.1 572.3L203.6 572.4L205.1 572.4L206.6 572.4L208.1 572.5L209.7 572.5L211.2 572.5L212.7 572.5L214.2 572.6L215.7 572.6L217.2 572.6L218.7 572.6L220.2 572.7L221.7 572.7L223.2 572.7L224.7 572.7L226.2 572.7L227.7 572.7L229.2 572.8L230.7 572.8L232.2 572.8L233.7 572.8L235.3 572.8L236.8 572.8L238.3 572.8L239.8 572.8L241.3 572.8L242.8 572.9L244.3 572.9L245.8 572.9L247.3 572.9L248.8 572.9L250.3 572.9L251.8 572.9L253.3 572.9L254.8 572.9L256.3 572.9L257.8 572.9L259.3 573L260.8 573L262.4 573L263.9 573L265.4 573L266.9 573L268.4 573L269.9 573L271.4 573L272.9 573L274.4 573L275.9 573L277.4 573L278.9 573L280.4 573L281.9 573L283.4 573L284.9 573L286.4 573L288 573L289.5 573L291 573L292.5 573L294 573L295.5 573L297 573L298.5 573L300 573.0H437.8" stroke="#000" stroke-width="2.65" fill="none" stroke-linejoin="round" stroke-linecap="butt"/>
<path transform="translate(0.35 0)" d="M49.4 516L50.2 517.3L50.9 518.6L51.7 519.9L52.5 521.2L53.3 522.4L54.1 523.7L55 525L55.8 526.2L56.6 527.5L57.5 528.7L58.4 529.9L59.2 531.2L60.1 532.4L61 533.6L61.9 534.8L62.8 536L63.8 537.2L64.7 538.4L65.6 539.5L66.6 540.7L67.6 541.9L68.5 543L69.5 544.1L70.5 545.3L71.5 546.4L72.6 547.5L73.6 548.6L74.6 549.7L75.7 550.7L76.8 551.8L77.8 552.9L78.9 553.9L80.1 555L81.2 555.9L82.4 556.8L83.6 557.7L84.9 558.5L86.2 559.3L87.5 560L88.8 560.7L90.2 561.3L91.6 562L93 562.6L94.4 563.1L95.8 563.6L97.2 564L98.7 564.4L100.1 564.8L101.6 565.1L103.1 565.4L104.6 565.7L106 565.9L107.5 566.2L109 566.4L110.5 566.6L112 566.9L113.5 567.1L115 567.3L116.5 567.5L118 567.8L119.5 568L120.9 568.2L122.4 568.5L123.9 568.6L125.4 568.8L126.9 568.9L128.4 569L129.9 569.2L131.4 569.3L132.9 569.4L134.4 569.5L135.9 569.5L137.4 569.6L138.9 569.7L140.4 569.8L141.9 569.9L143.4 569.9L145 570L146.5 570.1L148 570.2L149.5 570.2L151 570.3L152.5 570.4L154 570.5L155.5 570.6L157 570.7L158.5 570.8L160 570.9L161.5 571L163 571L164.5 571.1L166 571.2L167.5 571.2L169 571.3L170.5 571.4L172 571.4L173.5 571.5L175 571.5L176.5 571.6L178 571.6L179.5 571.7L181.1 571.8L182.6 571.8L184.1 571.9L185.6 571.9L187.1 572L188.6 572L190.1 572L191.6 572.1L193.1 572.1L194.6 572.2L196.1 572.2L197.6 572.2L199.1 572.3L200.6 572.3L202.1 572.3L203.6 572.4L205.1 572.4L206.6 572.4L208.1 572.5L209.7 572.5L211.2 572.5L212.7 572.5L214.2 572.6L215.7 572.6L217.2 572.6L218.7 572.6L220.2 572.7L221.7 572.7L223.2 572.7L224.7 572.7L226.2 572.7L227.7 572.7L229.2 572.8L230.7 572.8L232.2 572.8L233.7 572.8L235.3 572.8L236.8 572.8L238.3 572.8L239.8 572.8L241.3 572.8L242.8 572.9L244.3 572.9L245.8 572.9L247.3 572.9L248.8 572.9L250.3 572.9L251.8 572.9L253.3 572.9L254.8 572.9L256.3 572.9L257.8 572.9L259.3 573L260.8 573L262.4 573L263.9 573L265.4 573L266.9 573L268.4 573L269.9 573L271.4 573L272.9 573L274.4 573L275.9 573L277.4 573L278.9 573L280.4 573L281.9 573L283.4 573L284.9 573L286.4 573L288 573L289.5 573L291 573L292.5 573L294 573L295.5 573L297 573L298.5 573L300 573.0H437.8" stroke="#000" stroke-width="2.65" fill="none" stroke-linejoin="round" stroke-linecap="butt"/>
<path d="M48.5 584L50 584L51.5 584L53 584L54.5 584L56 584L57.5 584L59 584L60.5 584L62 584L63.5 584L65 584L66.5 584L68 584L69.5 584L71 584L72.5 584L74 584L75.5 584L77 584L78.5 584L80 584L81.5 584L83 584L84.5 584L86 584L87.5 584L89 584L90.5 584L92 584L93.5 584L95 584L96.5 584L98 584L99.5 584L101 584L102.5 584L104 584L105.5 584L107 584L108.5 584L110 584L111.5 584L113 584L114.5 584L116 584L117.5 584L119 584L120.5 584L122 584L123.5 584L125 583.9L126.5 583.9L128 583.9L129.5 583.9L131 583.9L132.5 583.9L134 583.9L135.5 583.9L137 583.9L138.5 583.9L140 583.9L141.5 583.9L143 583.9L144.5 583.8L146 583.8L147.5 583.8L149 583.8L150.5 583.8L152 583.8L153.5 583.7L155 583.7L156.5 583.7L158 583.6L159.5 583.6L161 583.5L162.5 583.5L164 583.4L165.5 583.4L167 583.3L168.5 583.3L170 583.2L171.5 583.2L173 583.2L174.5 583.2L176 583.1L177.5 583.1L179 583.1L180.5 583.1L182 583L183.5 583L185 583L186.5 583L188 582.9L189.5 582.9L191 582.9L192.5 582.8L194 582.8L195.5 582.7L197 582.7L198.5 582.6L200 582.5L201.5 582.4L203 582.2L204.5 582.1L206 581.9L207.5 581.8L209 581.6L210.5 581.5L212 581.3L213.4 581.1L214.9 581L216.4 580.8L217.9 580.6L219.4 580.4L220.9 580.2L222.4 580L223.9 579.8L225.4 579.6L226.8 579.4L228.3 579.1L229.8 578.9L231.3 578.6L232.7 578.3L234.2 578L235.7 577.6L237.1 577.3L238.6 577L240 576.6L241.5 576.2L242.9 575.8L244.4 575.4L245.8 574.9L247.2 574.4L248.6 573.9L250.1 573.5L251.5 573L252.9 572.5L254.3 572L255.7 571.4L257.1 570.9L258.5 570.4L259.9 569.8L261.3 569.2L262.7 568.7L264.1 568.1L265.5 567.5L266.8 566.9L268.2 566.3L269.6 565.7L270.9 565L272.3 564.4L273.6 563.7L275 563.1L276.3 562.4L277.7 561.8L279.1 561.2L280.4 560.6L281.8 559.9L283.2 559.3L284.5 558.7L285.9 558.1L287.3 557.5L288.6 556.8L290 556.2L291.3 555.6L292.7 554.9L294.1 554.3L295.4 553.7L296.8 553L298.1 552.3L299.5 551.7L300.8 551L302.1 550.2L303.4 549.5L304.7 548.7L305.9 547.9L307.2 547.1L308.4 546.2L309.7 545.4L310.9 544.5L312.1 543.6L313.3 542.6L314.5 541.7L315.6 540.8L316.7 539.8L317.8 538.8L318.9 537.7L320 536.7L321 535.6L322.1 534.5L323.1 533.4L324.1 532.3L325.1 531.1L326.1 530L327 528.8L327.9 527.7L328.9 526.5L329.8 525.3L330.6 524L331.5 522.8L332.3 521.5L333.1 520.3L333.9 519L334.6 517.7L335.3 516.4L336 515.1L336.7 513.7L337.5 512.4L338.2 511.1L338.9 509.8L339.6 508.5L340.4 507.1L341.1 505.8L341.9 504.5L342.6 503.2L343.3 501.9L344 500.6L344.7 499.3L345.4 497.9L346.1 496.6L346.7 495.2L347.3 493.9L348 492.5L348.6 491.1L349.2 489.8L349.8 488.4L350.4 487L351 485.6L351.6 484.3L352.2 482.9L352.8 481.5L353.4 480.1L354 478.8L354.6 477.4L355.1 476L355.7 474.6L356.3 473.2L356.8 471.8L357.3 470.4L357.9 469L358.4 467.6L358.8 466.2L359.3 464.7L359.8 463.3L360.2 461.9L360.7 460.5L361.2 459L361.6 457.6L362.1 456.2L362.6 454.8L363.1 453.3L363.6 451.9L364.1 450.5L364.6 449.1L365.1 447.7L365.6 446.3L366.1 444.9L366.6 443.5L367.2 442.1L367.7 440.7L368.3 439.3L368.9 437.9L369.5 436.5L370.1 435.2L370.7 433.8L371.4 432.4L372 431.1L372.7 429.7L373.3 428.4L374 427L374.7 425.7L375.4 424.4L376.1 423.1L376.8 421.7L377.6 420.4L378.3 419.1L379.1 417.8L379.8 416.5L380.6 415.3L381.3 413.9L382.1 412.6L382.9 411.3L383.7 410.1L384.5 408.8L385.3 407.6L386.2 406.4L387.1 405.2L388 404L389 402.9L390.1 401.8L391.2 400.7L392.3 399.7L393.4 398.8L394.6 397.9L395.8 397L397.1 396.2L398.4 395.4L399.7 394.6L401 393.9L402.3 393.2L403.6 392.5L405 391.8L406.3 391.2L407.7 390.6L409.1 389.9L410.4 389.3L411.8 388.7L413.2 388.1L414.5 387.4L415.9 386.8L417.3 386.2L418.6 385.6L420 385L421.4 384.4L422.7 383.7L424.1 383.1L425.4 382.4L426.8 381.8L428.1 381.2L429.5 380.5" stroke="#000" stroke-width="3" fill="none" stroke-linecap="round" stroke-linejoin="round" stroke-dasharray="0 5.11"/>
<text class="b" transform="translate(8.90 132.00) rotate(-90)" text-anchor="middle" textLength="233.0" lengthAdjust="spacingAndGlyphs">Relative value of respiration rate and</text>
<text class="b" transform="translate(24.80 133.80) rotate(-90)" text-anchor="middle" textLength="127.5" lengthAdjust="spacingAndGlyphs">ethylene production</text>
<text class="b" transform="translate(9.10 463.80) rotate(-90)" text-anchor="middle" textLength="233.3" lengthAdjust="spacingAndGlyphs">Relative value of respiration rate and</text>
<text class="b" transform="translate(24.90 464.70) rotate(-90)" text-anchor="middle" textLength="127.2" lengthAdjust="spacingAndGlyphs">ethylene production</text>
<text class="b" transform="translate(491.40 141.80) rotate(-90)" text-anchor="middle" textLength="66.6" lengthAdjust="spacingAndGlyphs">Coloration</text>
<text class="b" transform="translate(491.30 473.65) rotate(-90)" text-anchor="middle" textLength="66.5" lengthAdjust="spacingAndGlyphs">Coloration</text>
<text class="n" x="99.30" y="35.75" text-anchor="start" textLength="108.5" lengthAdjust="spacingAndGlyphs">Climacteric Fruit</text>
<text class="s" x="284.20" y="33.00" text-anchor="start" textLength="66.2" lengthAdjust="spacingAndGlyphs">Climacteric</text>
<text class="s" x="300.75" y="48.00" text-anchor="start" textLength="29.0" lengthAdjust="spacingAndGlyphs">peak</text>
<text class="s" x="192.00" y="177.60" text-anchor="start">CO<tspan font-size="9.4" dy="3.2">2</tspan></text>
<text class="s" x="165.30" y="234.50" text-anchor="start" textLength="52.5" lengthAdjust="spacingAndGlyphs">Ethylene</text>
<text class="s" x="341.20" y="252.00" text-anchor="start" textLength="60.6" lengthAdjust="spacingAndGlyphs">Coloration</text>
<text class="b" x="453.90" y="20.60" text-anchor="start" textLength="42.0" lengthAdjust="spacingAndGlyphs">Yellow</text>
<text class="b" x="453.60" y="37.00" text-anchor="start" textLength="42.3" lengthAdjust="spacingAndGlyphs">or Red</text>
<text class="b" x="455.30" y="253.75" text-anchor="start" textLength="39.0" lengthAdjust="spacingAndGlyphs">Green</text>
<text class="n" x="62.40" y="294.80" text-anchor="start" textLength="128.6" lengthAdjust="spacingAndGlyphs">Days after anthesis</text>
<text class="b" x="376.60" y="305.00" text-anchor="middle" textLength="67.6" lengthAdjust="spacingAndGlyphs">Maturation</text>
<text class="b" x="376.60" y="320.50" text-anchor="middle" textLength="62.1" lengthAdjust="spacingAndGlyphs">(ripening)</text>
<path d="M343.25 39.25H364.00" stroke="#000" stroke-width="2.3" fill="none"/><path d="M373.75 39.25L363.00 34.25L363.00 44.25Z" fill="#000"/>
<path d="M54.90 276.75H424.70" stroke="#000" stroke-width="2.2" fill="none"/><path d="M434.20 276.75L423.70 271.50L423.70 282.00Z" fill="#000"/>
<path d="M325.00 289.50H423.95" stroke="#000" stroke-width="2.2" fill="none"/><path d="M433.75 289.50L422.95 284.25L422.95 294.75Z" fill="#000"/>
<path d="M318.00 289.50L329.00 284.25L329.00 294.75Z" fill="#000"/>
<path d="M474.15 54.70V228.30" stroke="#000" stroke-width="2.4" fill="none"/><path d="M474.15 45.40L468.55 55.70L479.75 55.70Z" fill="#000"/><path d="M474.15 237.60L468.55 227.30L479.75 227.30Z" fill="#000"/>
<text class="n" x="96.20" y="367.50" text-anchor="start" textLength="137.8" lengthAdjust="spacingAndGlyphs">Non-climacteric Fruit</text>
<text class="s" x="332.20" y="388.75" text-anchor="start" textLength="60.6" lengthAdjust="spacingAndGlyphs">Coloration</text>
<text class="s" x="193.20" y="504.50" text-anchor="start">CO<tspan font-size="9.4" dy="3.2">2</tspan></text>
<text class="n" x="166.20" y="561.75" text-anchor="start" textLength="59.5" lengthAdjust="spacingAndGlyphs">Ethylene</text>
<text class="b" x="453.90" y="352.80" text-anchor="start" textLength="42.0" lengthAdjust="spacingAndGlyphs">Yellow</text>
<text class="b" x="453.60" y="368.80" text-anchor="start" textLength="42.3" lengthAdjust="spacingAndGlyphs">or Red</text>
<text class="b" x="454.80" y="585.10" text-anchor="start" textLength="38.6" lengthAdjust="spacingAndGlyphs">Green</text>
<text class="n" x="62.80" y="627.40" text-anchor="start" textLength="128.5" lengthAdjust="spacingAndGlyphs">Days after anthesis</text>
<text class="b" x="367.20" y="642.80" text-anchor="middle" textLength="68.4" lengthAdjust="spacingAndGlyphs">Maturation</text>
<path d="M55.90 609.30H425.50" stroke="#000" stroke-width="2.2" fill="none"/><path d="M435.00 609.30L424.50 604.20L424.50 614.40Z" fill="#000"/>
<path d="M306.00 623.90H424.60" stroke="#000" stroke-width="2.2" fill="none"/><path d="M434.20 623.90L423.60 618.75L423.60 629.05Z" fill="#000"/>
<path d="M298.90 623.90L309.90 618.75L309.90 629.05Z" fill="#000"/>
<path d="M472.85 386.40V560.30" stroke="#000" stroke-width="2.4" fill="none"/><path d="M472.85 377.40L467.45 387.40L478.25 387.40Z" fill="#000"/><path d="M472.85 569.30L467.45 559.30L478.25 559.30Z" fill="#000"/>
</svg></body></html>
